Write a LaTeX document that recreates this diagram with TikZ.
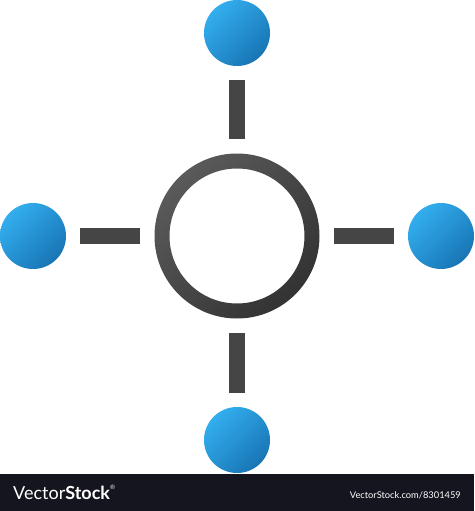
\documentclass[tikz,border=0pt]{standalone}
\usepackage{fontspec}
\setmainfont{Lato}
\definecolor{blueL}{HTML}{33AEEE}
\definecolor{blueD}{HTML}{1875B5}
\definecolor{grayL}{HTML}{5A5A5A}
\definecolor{grayD}{HTML}{333333}
\definecolor{barc}{HTML}{454545}
\definecolor{footer}{HTML}{15151F}
\tikzset{
  leaf/.style={circle, minimum size=66pt, inner sep=0pt, top color=blueL, bottom color=blueD, shading angle=45},
  hubnode/.style={circle, minimum size=165pt, inner sep=0pt},
  spoke/.style={line width=16pt, draw=barc, shorten <=14.5pt, shorten >=14pt},
}
\begin{document}
\begin{tikzpicture}[x=1pt,y=-1pt]
\fill[white] (0,0) rectangle (474,511);
\useasboundingbox (0,0) rectangle (474,511);
\node[hubnode] (hub) at (237,236) {};
\shade[even odd rule, top color=grayL, bottom color=grayD, shading angle=45]
  (237,236) circle (82.5) (237,236) circle (67.5);
\node[leaf] (top) at (237,33) {};
\node[leaf] (bottom) at (237,440) {};
\node[leaf] (left) at (33,236) {};
\node[leaf] (right) at (441,236) {};
\draw[spoke] (hub) -- (top);
\draw[spoke] (hub) -- (bottom);
\draw[spoke] (hub) -- (left);
\draw[spoke] (hub) -- (right);
\fill[footer] (0,474) rectangle (474,511);
\node[anchor=west, text=white, inner sep=0pt] (brand) at (13,492.5)
  {\fontsize{18}{18}\selectfont Vector\textbf{Stock}\raisebox{1.1ex}{\fontsize{6}{6}\selectfont ®}};
\node[anchor=east, text=white, inner sep=0pt] (url) at (461,495)
  {\fontsize{9.3}{9.3}\selectfont VectorStock.com/8301459};
\end{tikzpicture}
\end{document}
